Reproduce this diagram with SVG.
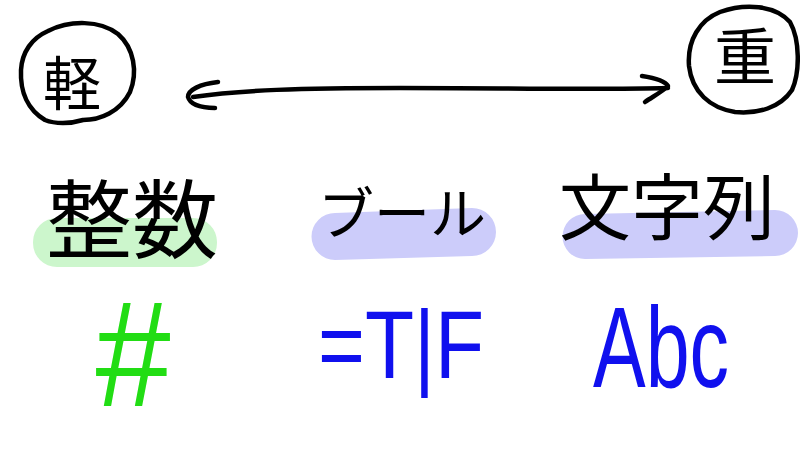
<svg xmlns="http://www.w3.org/2000/svg" width="800" height="450" viewBox="0 0 800 450">
<defs>
<style>
.ink{fill:none;stroke:#000;stroke-width:4.5;stroke-linecap:round;stroke-linejoin:round}
.jp{font-family:"Noto Sans CJK JP","Noto Sans",sans-serif;fill:#000}
.hlg{fill:#ccf6cc}
.hlb{fill:#ccccfa}
.lat{font-family:"Liberation Sans","Noto Sans",sans-serif}
.blue{fill:#1010ee}
</style>
</defs>
<rect width="800" height="450" fill="#fff"/>
<g id="light">
<path class="ink" d="M 48 31 C 70 20 100 20 118 34 C 134 48 138 72 130 92 C 120 112 100 120 83 120 C 70 124 55 124 45 120 C 28 110 20 92 21 70 C 22 52 32 38 48 31 Z"/>
<text class="jp" x="72" y="105" font-size="58" text-anchor="middle">軽</text>
</g>
<g id="heavy">
<path class="ink" d="M 720 12 C 745 3 775 5 790 22 C 800 40 800 72 792 90 C 780 108 758 114 735 112 C 710 108 692 92 689 66 C 687 40 700 20 720 12 Z"/>
<text class="jp" x="745" y="80" font-size="62" text-anchor="middle">重</text>
</g>
<g id="connectors">
<path class="ink" d="M 193 97 C 240 90 300 88 400 88 C 500 88 600 90 668 88"/>
<path class="ink" d="M 218 82 C 200 84 188 90 188 97 C 190 104 200 108 215 108"/>
<path class="ink" d="M 642 76 C 655 78 665 81 668 86 C 662 92 652 97 645 102"/>
</g>
<g id="int">
<rect class="hlg" x="33" y="218" width="184" height="49" rx="24"/>
<text class="jp" x="46" y="252" font-size="86">整数</text>
<text class="lat" x="133" y="406" font-size="150" text-anchor="middle" fill="#22dd14" transform="translate(133 0) scale(0.9 1) translate(-133 0)">#</text>
</g>
<g id="bool">
<path class="hlb" d="M 335 213 L 472 208 A 24 24 0 0 1 472 256 L 335 260 A 23.5 23.5 0 0 1 335 213 Z"/>
<text class="jp" x="402" y="234" font-size="56" text-anchor="middle">ブール</text>
<text class="lat blue" x="318" y="378" font-size="96" textLength="166" lengthAdjust="spacingAndGlyphs">=T|F</text>
</g>
<g id="string">
<path class="hlb" d="M 585 214 L 775 210 A 23 23 0 0 1 775 256 L 585 259 A 22.5 22.5 0 0 1 585 214 Z"/>
<text class="jp" x="667" y="234" font-size="72" text-anchor="middle">文字列</text>
<text class="lat blue" x="593" y="387" font-size="115" textLength="136" lengthAdjust="spacingAndGlyphs">Abc</text>
</g>
</svg>
